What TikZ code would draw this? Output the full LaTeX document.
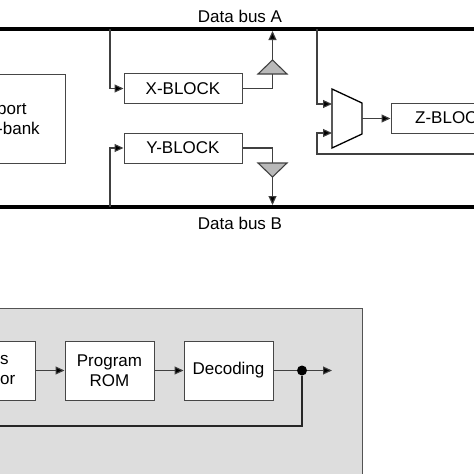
\documentclass[tikz,border=0pt]{standalone}
\usepackage{fontspec}
\setmainfont{Liberation Sans}
\usetikzlibrary{arrows.meta}

\begin{document}
\begin{tikzpicture}[
  x=1pt, y=-1pt,
  font=\fontsize{17}{20}\selectfont,
  blk/.style={draw=gray!55!black, fill=white, line width=1pt, minimum width=118pt, minimum height=30pt, inner sep=0pt, align=center},
  bus/.style={line width=4pt, black},
  wire/.style={line width=1.1pt, black!75},
  arr/.style={wire, -{Triangle[length=9pt, width=8pt, fill=black]}},
  buf/.style={draw=black!75, line width=1.1pt, fill=gray!55},
  lbl/.style={inner sep=0pt},
  panel/.style={fill=gray!27, draw=gray!65!black, line width=1pt},
]
\useasboundingbox (0,0) rectangle (474,474);
\clip (0,0) rectangle (474,474);
% data buses
\draw[bus] (-5,29) coordinate (busAw) -- (480,29) coordinate (busAe);
\draw[bus] (-5,207) coordinate (busBw) -- (480,207) coordinate (busBe);
\node[lbl] (busAlbl) at (240,16) {Data bus A};
\node[lbl] (busBlbl) at (240,223) {Data bus B};
% register bank and blocks
\node[blk, minimum width=80pt, minimum height=89pt] (regs) at (25,118.5) {};
\node[lbl, align=left, anchor=west] (regstxt) at (-3,119) {port\\-bank};
\node[blk] (xblk) at (183,88.5) {X-BLOCK};
\node[blk] (yblk) at (183,148) {Y-BLOCK};
\node[blk, minimum width=122pt] (zblk) at (452,118) {Z-BLOCK};
% bus to blocks
\coordinate (xtap) at (110,29);
\coordinate (ytap) at (110,207);
\draw[arr] (xtap) |- (xblk.west);
\draw[arr] (ytap) |- (yblk.west);
% tri-state drivers
\coordinate (xbufin) at (272.5,74);
\coordinate (xbufout) at (272.5,60);
\coordinate (xdrv) at (272.5,31);
\draw[buf] (258,74) -- (287,74) -- (xbufout) -- cycle;
\draw[wire] (xblk.east) -| (xbufin);
\draw[arr] (xbufout) -- (xdrv);
\coordinate (ybufin) at (272.5,163);
\coordinate (ybufout) at (272.5,177);
\coordinate (ydrv) at (272.5,205);
\draw[buf] (258,163) -- (287,163) -- (ybufout) -- cycle;
\draw[wire] (yblk.east) -| (ybufin);
\draw[arr] (ybufout) -- (ydrv);
% multiplexer
\draw[line width=1.3pt, black, fill=white] (332,89) -- (362,103) -- (362,134) -- (332,148) -- cycle;
\coordinate (muxa) at (332,104);
\coordinate (muxb) at (332,133);
\coordinate (muxout) at (362,118.5);
\coordinate (ztap) at (317,29);
\coordinate (zback) at (480,154);
\draw[arr] (ztap) |- (muxa);
\draw[arr] (zback) -- (317,154) -- (317,133) -- (muxb);
\draw[arr] (muxout) -- (zblk.west |- muxout);
% sequencer panel
\draw[panel] (-5,308) rectangle (362,480);
\node[blk, minimum width=90pt, minimum height=59pt] (addr) at (-10,370.5) {};
\node[lbl, align=left, anchor=west] (addrtxt) at (0,370) {s\\or};
\node[blk, minimum width=89pt, minimum height=59pt] (rom) at (109.5,370.5) {Program\\ROM};
\node[blk, minimum width=89pt, minimum height=59pt] (dec) at (228.5,370.5) {Decoding};
\node[circle, fill=black, inner sep=0pt, minimum size=10pt] (dot) at (302,370.5) {};
\coordinate (seqout) at (332,370.5);
\coordinate (fback) at (-5,426);
\draw[arr] (addr) -- (rom);
\draw[arr] (rom) -- (dec);
\draw[wire] (dec) -- (dot);
\draw[arr] (dot) -- (seqout);
\draw[line width=1.8pt, black!85] (dot) |- (fback);
\end{tikzpicture}
\end{document}
